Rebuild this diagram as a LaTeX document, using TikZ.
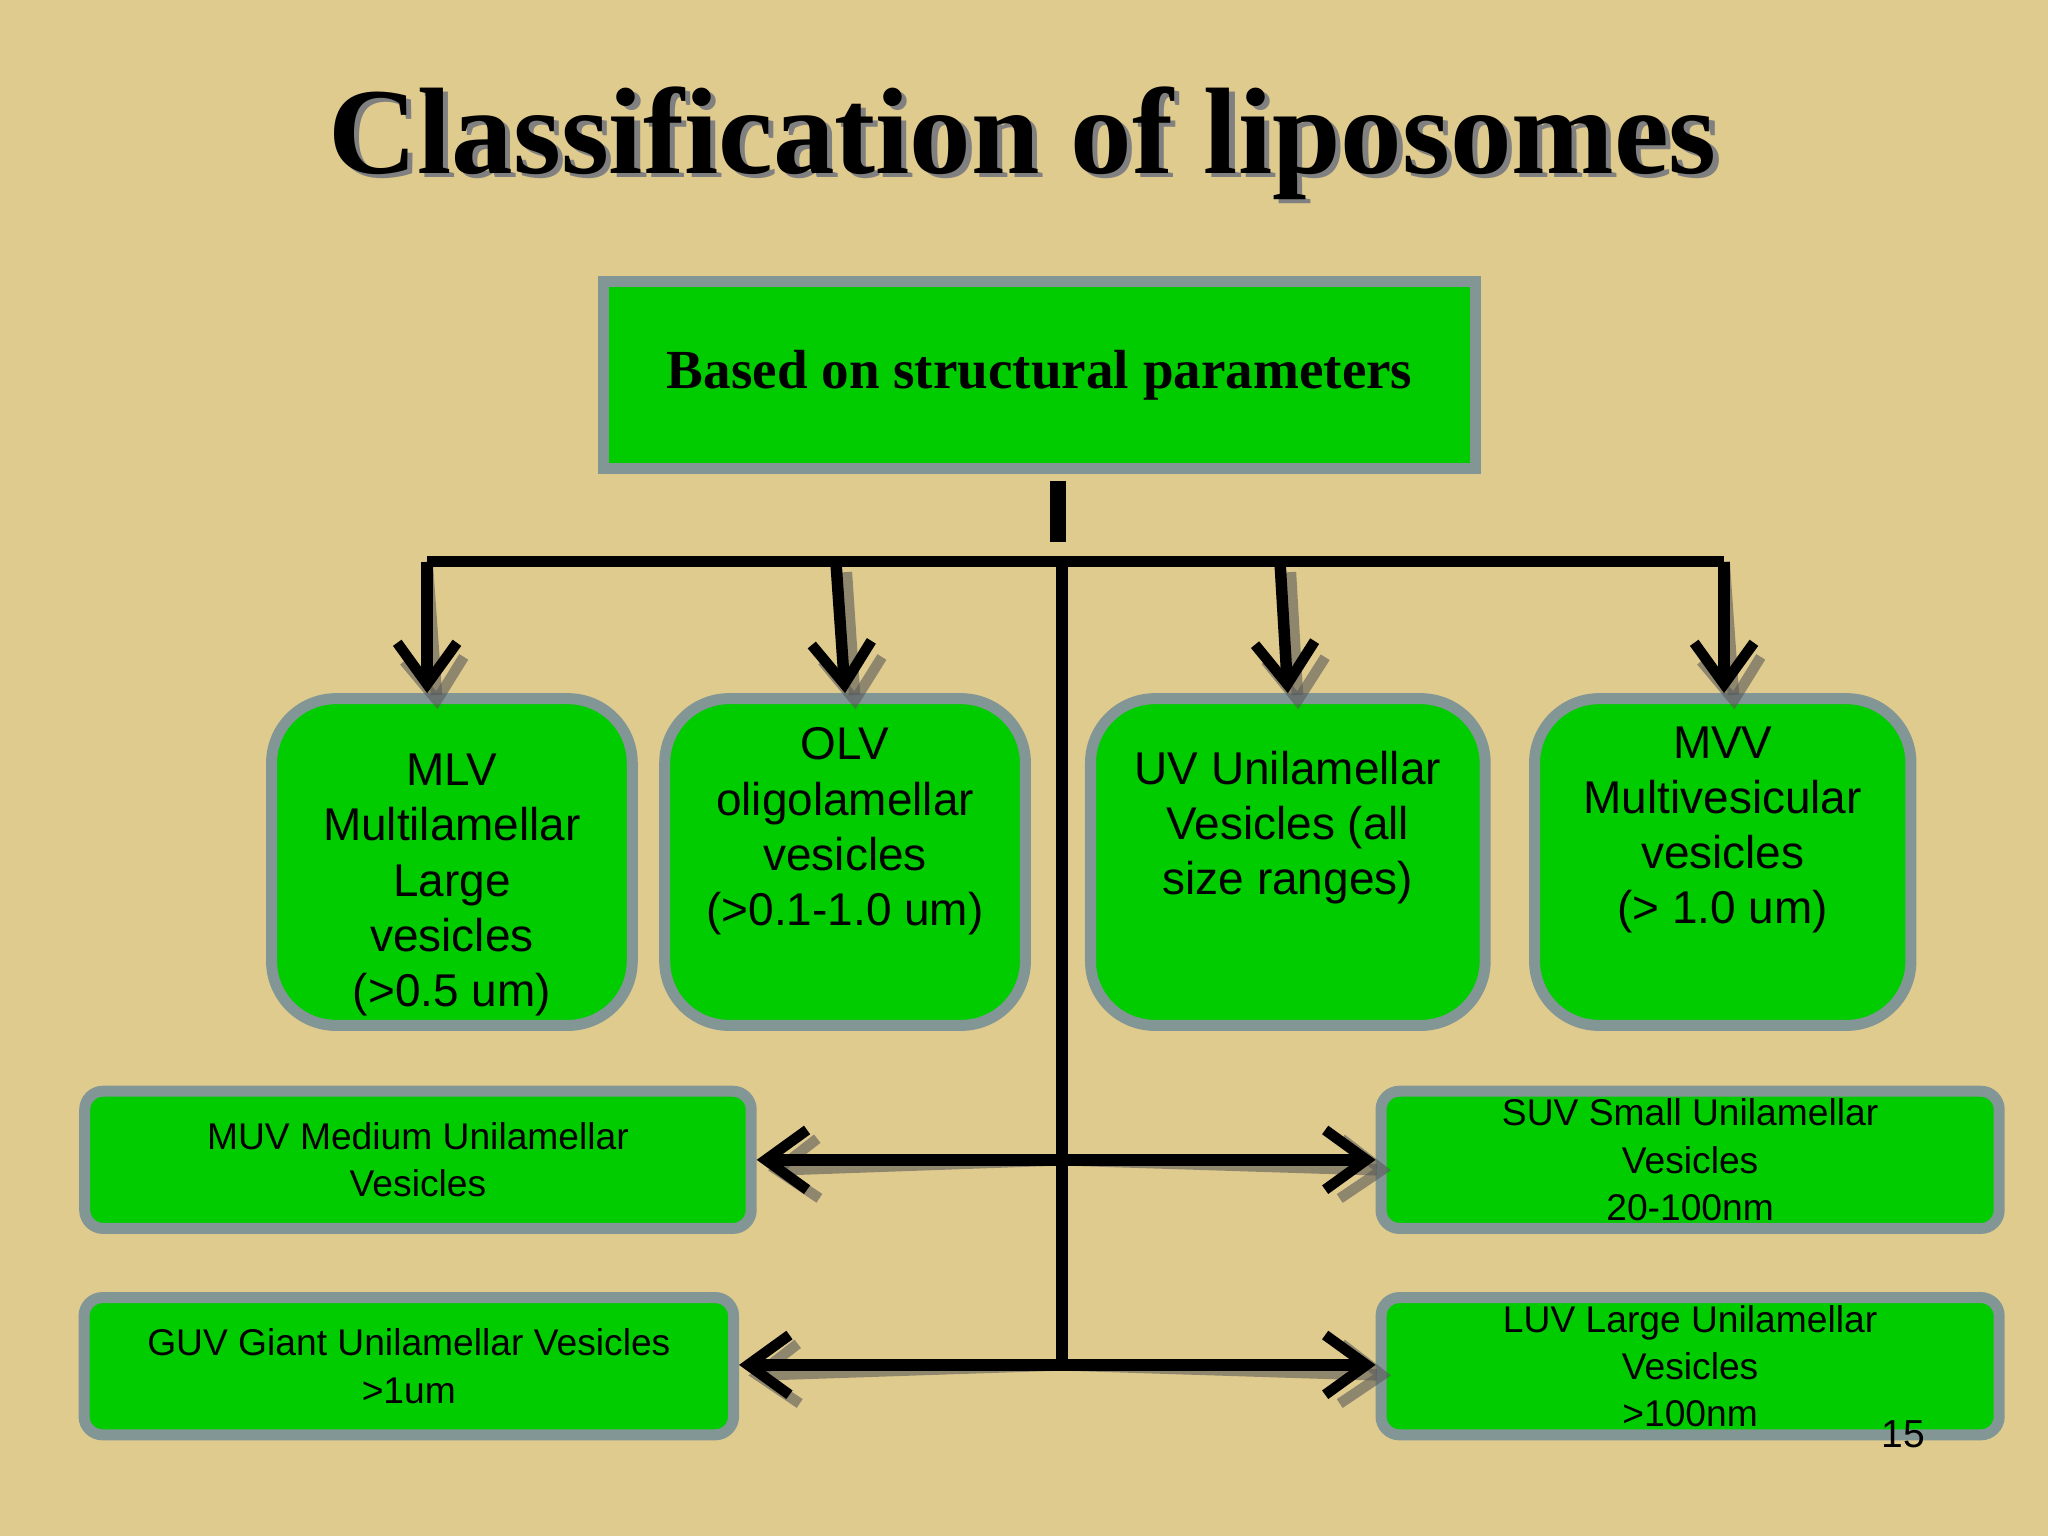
\documentclass[tikz,border=0pt]{standalone}
\usepackage{fontspec}
\setmainfont{Liberation Serif}
\setsansfont{Liberation Sans}
\usetikzlibrary{arrows.meta}
\definecolor{paper}{RGB}{224,203,142}
\definecolor{boxgreen}{RGB}{0,204,0}
\definecolor{rimgray}{RGB}{130,150,150}
\tikzset{
  box/.style={draw=rimgray, line width=2.4pt, fill=boxgreen, inner sep=0pt,
    font=\sffamily, align=center},
  roundbox/.style={box, rounded corners=14pt, font=\sffamily\fontsize{10}{12}\selectfont},
  flatbox/.style={box, rounded corners=4pt, font=\sffamily\fontsize{8.1}{10.3}\selectfont},
  wire/.style={line width=2.5pt, black},
  shade/.style={line width=2.5pt, gray!70!black, opacity=.6},
  tip/.style={-{Straight Barb[length=9pt,width=13pt,line width=2.3pt]}}
}
\begin{document}
\begin{tikzpicture}[x=0.01cm,y=-0.01cm]
  \fill[paper] (0,0) rectangle (1568,1176);
  % title
  \node[font=\bfseries\fontsize{26.8}{30}\selectfont, text=gray] at (787,113) {Classification of liposomes};
  \node[font=\bfseries\fontsize{26.8}{30}\selectfont] (title) at (783,110) {Classification of liposomes};
  % boxes
  \node[box, minimum width=6.67cm, minimum height=1.43cm, font=\bfseries\fontsize{12}{14}\selectfont] (base) at (796,287) {Based on structural parameters};
  \node[roundbox, minimum width=2.76cm, minimum height=2.5cm] (mlv) at (346,660) {\rule{0pt}{3.2ex}MLV\\Multilamellar\\Large\\vesicles\\(>0.5 um)};
  \node[roundbox, minimum width=2.76cm, minimum height=2.5cm] (olv) at (647,660) {OLV\\oligolamellar\\vesicles\\(>0.1-1.0 um)\\[0.65ex]};
  \node[roundbox, minimum width=3.02cm, minimum height=2.5cm] (uv) at (986,660) {UV Unilamellar\\Vesicles (all\\size ranges)\\[0.95ex]};
  \node[roundbox, minimum width=2.88cm, minimum height=2.5cm] (mvv) at (1319,660) {MVV\\Multivesicular\\vesicles\\(> 1.0 um)\\[0.75ex]};
  \node[flatbox, minimum width=5.1cm, minimum height=1.05cm] (muv) at (320,888) {MUV Medium Unilamellar\\Vesicles};
  \node[flatbox, minimum width=4.73cm, minimum height=1.05cm] (suv) at (1294,888) {SUV Small Unilamellar\\Vesicles\\20-100nm};
  \node[flatbox, minimum width=4.97cm, minimum height=1.05cm] (guv) at (313,1046) {GUV Giant Unilamellar Vesicles\\>1um};
  \node[flatbox, minimum width=4.73cm, minimum height=1.05cm] (luv) at (1294,1046) {LUV Large Unilamellar\\Vesicles\\>100nm};
  \node[font=\sffamily\fontsize{8.5}{10}\selectfont] (page) at (1457,1098) {15};
  % junctions
  \coordinate (stem) at (810,368);
  \coordinate (top) at (813,430);
  \coordinate (low) at (813,1045);
  \coordinate (left) at (327,430);
  \coordinate (right) at (1320,430);
  \coordinate (mid) at (813,888);
  % shadows
  \begin{scope}[shift={(8,8)}]
    \draw[shade] (left) -- (right);
    \draw[shade] (top) -- (low);
    \draw[shade, tip] (left) -- (327,535);
    \draw[shade, tip] (640,430) -- (647,535);
    \draw[shade, tip] (980,430) -- (986,535);
    \draw[shade, tip] (right) -- (1320,535);
    \draw[shade, tip] (mid) -- (580,888);
    \draw[shade, tip] (mid) -- (1057,888);
    \draw[shade, tip] (low) -- (565,1045);
    \draw[shade, tip] (low) -- (1057,1045);
  \end{scope}
  % wires
  \draw[wire, line width=3.5pt] (stem) -- (810,415);
  \draw[wire] (left) -- (right);
  \draw[wire] (top) -- (low);
  \draw[wire, tip] (left) -- (mlv.north -| left);
  \draw[wire, tip] (640,430) -- (olv.north);
  \draw[wire, tip] (980,430) -- (uv.north);
  \draw[wire, tip] (right) -- (mvv.north -| right);
  \draw[wire, tip] (mid) -- (muv.east |- mid);
  \draw[wire, tip] (mid) -- (suv.west |- mid);
  \draw[wire, tip] (low) -- (guv.east |- low);
  \draw[wire, tip] (low) -- (luv.west |- low);
\end{tikzpicture}
\end{document}
